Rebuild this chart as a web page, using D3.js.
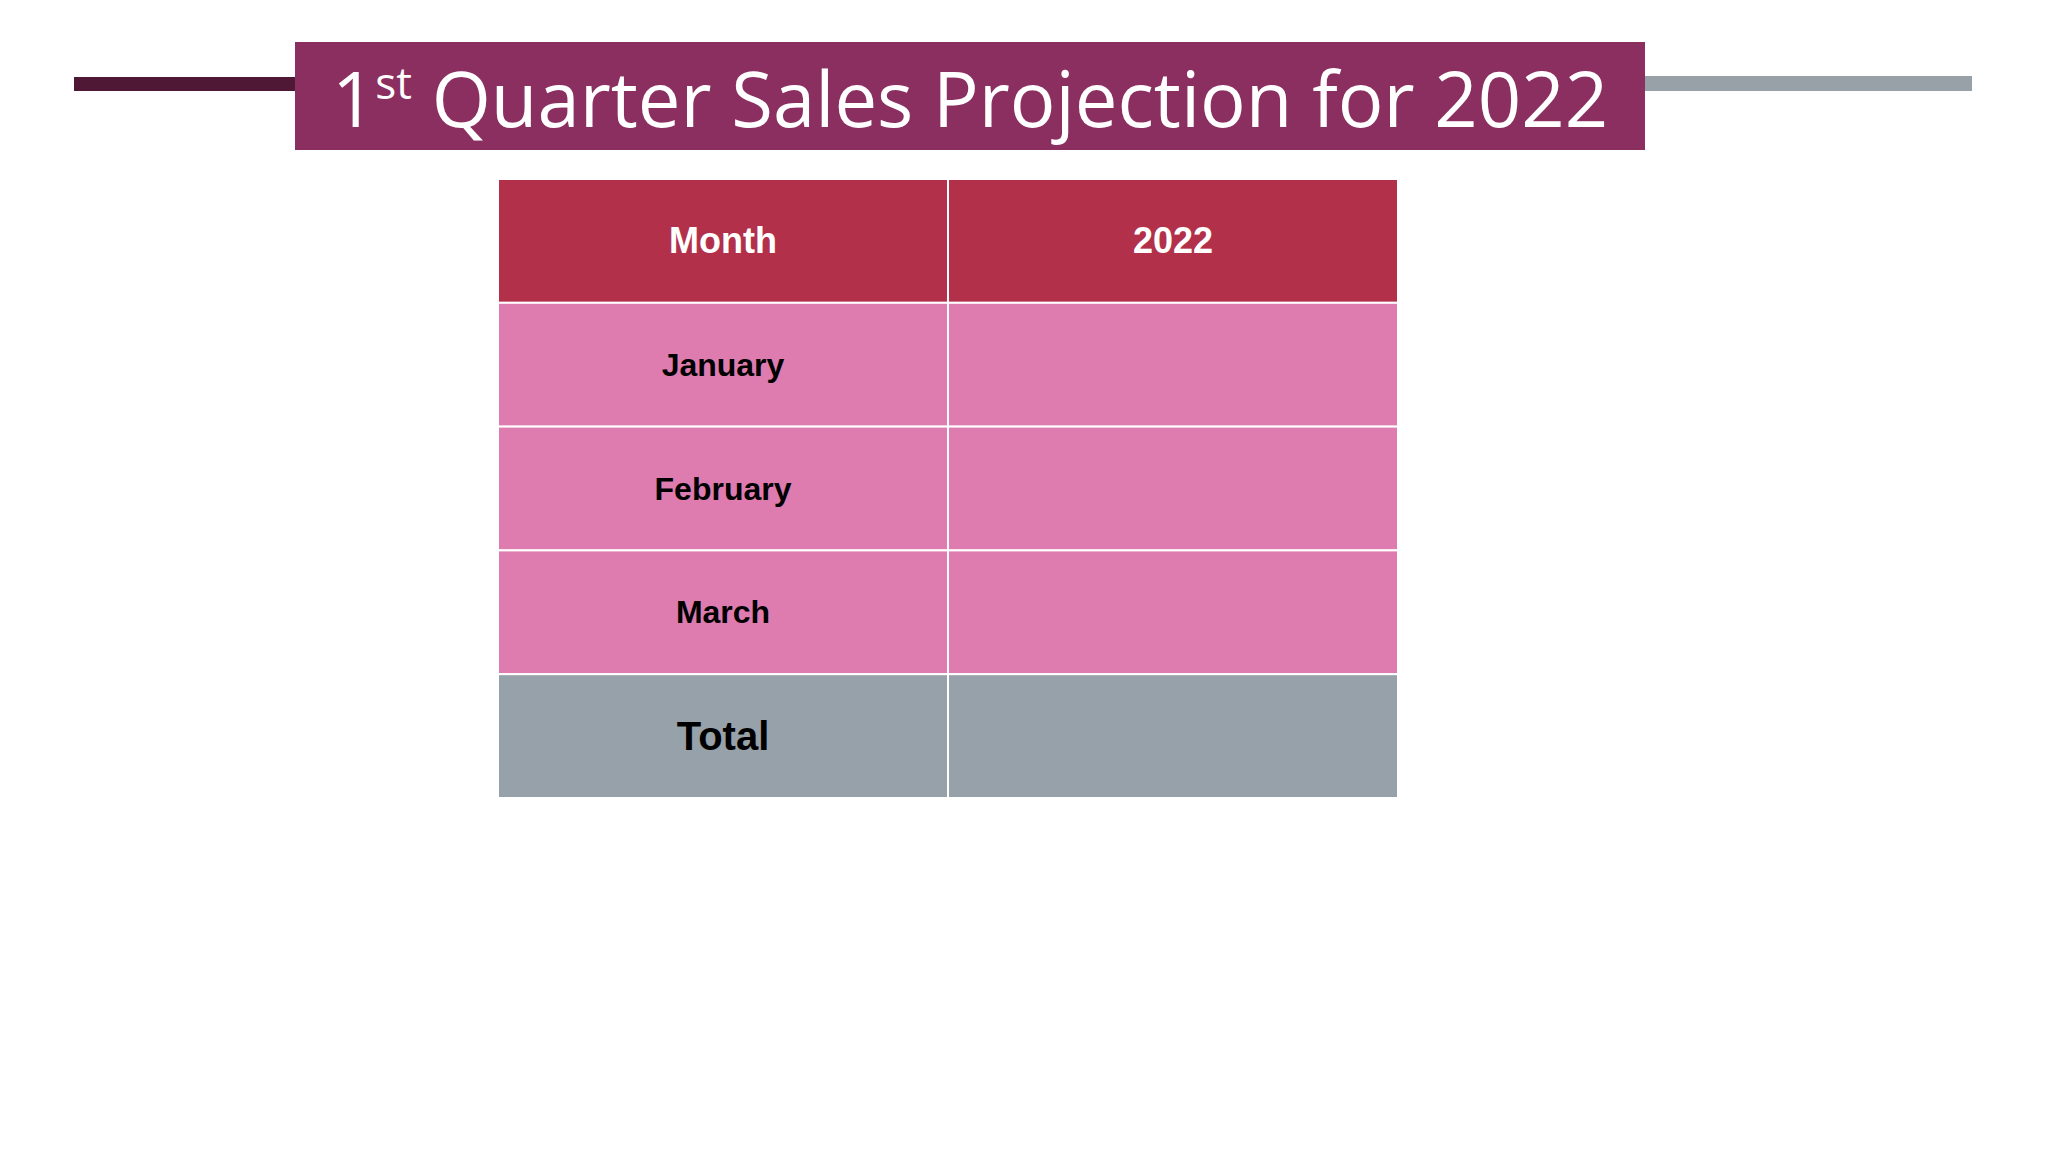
<!DOCTYPE html>
<html><head><meta charset="utf-8">
<script src="https://cdn.jsdelivr.net/npm/d3@7"></script>
<style>html,body{margin:0;background:#fff;}</style>
</head><body>
<svg id="c" width="2048" height="1152"></svg>
<script>
const titleMain = "Quarter Sales Projection for 2022";
const headers = ["Month", "2022"];
const months = ["January", "February", "March"];
const values2022 = ["", "", ""];
const totalLabel = "Total";
const totalValue = "";

const svg = d3.select("#c");
// decorative lines
svg.append("rect").attr("x",74).attr("y",77).attr("width",222).attr("height",14).attr("fill","#4f1834");
svg.append("rect").attr("x",1644).attr("y",76).attr("width",328).attr("height",15).attr("fill","#98a1a8");
svg.append("rect").attr("x",295).attr("y",42).attr("width",1350).attr("height",108).attr("fill","#8b2e60");
const t = svg.append("text").attr("x",970).attr("y",127).attr("text-anchor","middle")
  .attr("fill","#fff").attr("font-family","'Open Sans', sans-serif").attr("font-size",76);
t.append("tspan").text("1");
t.append("tspan").attr("font-size",44).attr("dy",-28).text("st");
t.append("tspan").attr("dy",28).text(" " + titleMain);

const rows = [headers, ...months.map((m,i)=>[m, values2022[i]]), [totalLabel, totalValue]];
const y = d3.scaleBand().domain(d3.range(rows.length)).range([179, 798]);
const x = d3.scaleBand().domain([0,1]).range([498, 1398]);
const fills = i => i===0 ? "#b2304a" : (i===rows.length-1 ? "#97a1a9" : "#de7baf");
rows.forEach((r,i)=>{
  r.forEach((cell,j)=>{
    svg.append("rect").attr("x",x(j)).attr("y",y(i)).attr("width",x.bandwidth()).attr("height",y.bandwidth())
      .attr("fill",fills(i)).attr("stroke","#fff").attr("stroke-width",2);
    svg.append("text").attr("x",x(j)+x.bandwidth()/2).attr("y",y(i)+y.bandwidth()/2)
      .attr("text-anchor","middle").attr("dominant-baseline","central")
      .attr("font-family","'Liberation Sans', Arial, sans-serif").attr("font-weight","bold")
      .attr("font-size", i===0?36:(i===rows.length-1?40:32))
      .attr("fill", i===0?"#fff":"#000").text(cell);
  });
});
</script>
</body></html>
